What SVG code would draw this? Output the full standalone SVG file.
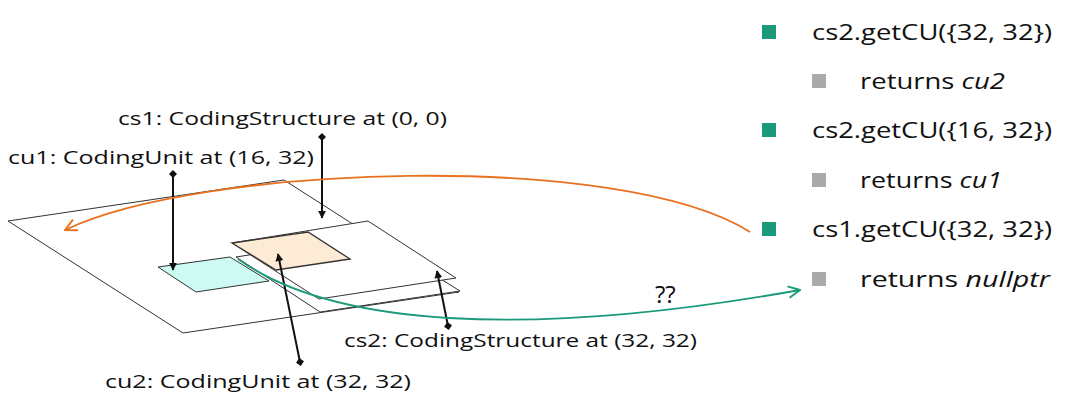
<svg xmlns="http://www.w3.org/2000/svg" width="1078" height="409" viewBox="0 0 1078 409">
<style>
.pl{fill:#fff;stroke:#333;stroke-width:1}
.lb{font-family:"Open Sans","Liberation Sans",Arial,sans-serif;font-size:19px;fill:#111}
.rt{font-family:"Open Sans","Liberation Sans",Arial,sans-serif;font-size:22px;fill:#111}
.ptr{stroke:#111;stroke-width:2;fill:none;marker-start:url(#dia);marker-end:url(#ah)}
</style>
<defs>
<marker id="ah" viewBox="0 0 10 10" refX="9" refY="5" markerWidth="8" markerHeight="8" orient="auto" markerUnits="userSpaceOnUse"><path d="M0,0 L10,5 L0,10 Z" fill="#111"/></marker>
<marker id="dia" viewBox="0 0 10 10" refX="5" refY="5" markerWidth="8" markerHeight="8" orient="auto" markerUnits="userSpaceOnUse"><path d="M5,0 L10,5 L5,10 L0,5 Z" fill="#111"/></marker>
<marker id="oa" viewBox="0 0 12 12" refX="11" refY="6" markerWidth="14" markerHeight="14" orient="auto" markerUnits="userSpaceOnUse"><path d="M1,1 L11,6 L1,11" fill="none" stroke="#e8701e" stroke-width="1.6"/></marker>
<marker id="ga" viewBox="0 0 12 12" refX="11" refY="6" markerWidth="14" markerHeight="14" orient="auto" markerUnits="userSpaceOnUse"><path d="M1,1 L11,6 L1,11" fill="none" stroke="#1a9a7a" stroke-width="1.6"/></marker>
</defs>
<g id="cs1"><path class="pl" d="M8,221 L284,180 L459,292 L183,333 Z"/></g>
<g id="cs2">
<path class="pl" d="M236,257 L372,236 L460,291 L320,312 Z" stroke="#888"/>
<path class="pl" d="M232,243 L368,221 L456,278 L319,299 Z"/>
</g>
<g id="cu1"><path d="M158,267 L230,257 L269,281 L196,292 Z" fill="#cdfaf2" stroke="#333"/></g>
<g id="cu2"><path d="M232,243 L308,232 L350,259 L276,270 Z" fill="#fdebd6" stroke="#333" stroke-width="1.3"/></g>
<g id="labels">
<text class="lb" x="118" y="125" textLength="329" lengthAdjust="spacingAndGlyphs">cs1: CodingStructure at (0, 0)</text>
<text class="lb" x="8" y="164" textLength="306" lengthAdjust="spacingAndGlyphs">cu1: CodingUnit at (16, 32)</text>
<text class="lb" x="344" y="347" textLength="353" lengthAdjust="spacingAndGlyphs">cs2: CodingStructure at (32, 32)</text>
<text class="lb" x="105" y="388" textLength="306" lengthAdjust="spacingAndGlyphs">cu2: CodingUnit at (32, 32)</text>
<text class="lb" x="655" y="303" style="font-size:24px">??</text>
</g>
<g id="list">
<rect x="762" y="25" width="14" height="14" fill="#1a9a7a"/><text class="rt" x="812" y="40" textLength="240" lengthAdjust="spacingAndGlyphs">cs2.getCU({32, 32})</text>
<rect x="812" y="74" width="14" height="14" fill="#aaa"/><text class="rt" x="860" y="89" textLength="145" lengthAdjust="spacingAndGlyphs">returns <tspan font-style="italic">cu2</tspan></text>
<rect x="762" y="123" width="14" height="14" fill="#1a9a7a"/><text class="rt" x="812" y="138" textLength="240" lengthAdjust="spacingAndGlyphs">cs2.getCU({16, 32})</text>
<rect x="812" y="173" width="14" height="14" fill="#aaa"/><text class="rt" x="860" y="188" textLength="142" lengthAdjust="spacingAndGlyphs">returns <tspan font-style="italic">cu1</tspan></text>
<rect x="762" y="222" width="14" height="14" fill="#1a9a7a"/><text class="rt" x="812" y="237" textLength="240" lengthAdjust="spacingAndGlyphs">cs1.getCU({32, 32})</text>
<rect x="812" y="272" width="14" height="14" fill="#aaa"/><text class="rt" x="860" y="287" textLength="190" lengthAdjust="spacingAndGlyphs">returns <tspan font-style="italic">nullptr</tspan></text>
</g>
<g id="connectors">
<path class="ptr" d="M173,174 L173,270"/>
<path class="ptr" d="M322,137 L322,218"/>
<path class="ptr" d="M300,362 L278,254"/>
<path class="ptr" d="M448,326 L437,271"/>
<path d="M750,232 C620,150 200,165 65,230" fill="none" stroke="#e8701e" stroke-width="1.8" marker-end="url(#oa)"/>
<path d="M238,259 C330,325 520,340 800,290" fill="none" stroke="#1a9a7a" stroke-width="1.8" marker-end="url(#ga)"/>
</g>
</svg>
